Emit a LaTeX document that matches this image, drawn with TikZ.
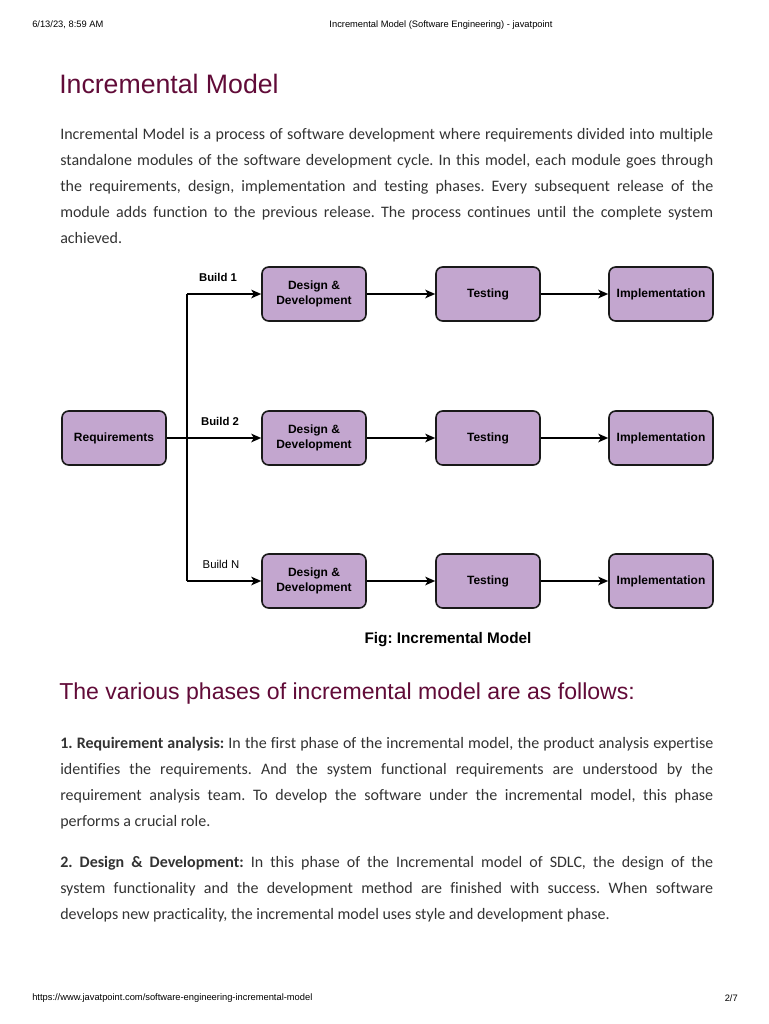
\documentclass[tikz,border=0pt]{standalone}
\usepackage{fontspec}
\setmainfont{Carlito}[Ligatures=CommonOff]
\newfontfamily\arialfont{Liberation Sans}
\usetikzlibrary{arrows.meta}
\frenchspacing

\definecolor{headred}{HTML}{610B38}
\definecolor{boxfill}{HTML}{C3A6CF}
\definecolor{bodytext}{HTML}{333333}

% one justified text line, 653px wide
\newcommand{\jline}[1]{\makebox[489.75pt][s]{#1}}

\tikzset{
  phase/.style={draw=black!90, fill=boxfill, line width=1.2pt, rounded corners=5pt,
    minimum width=78pt, minimum height=40.5pt, inner sep=2pt, align=center,
    font=\arialfont\bfseries\fontsize{9}{11}\selectfont},
  flow/.style={line width=1.1pt, -{Stealth[length=7.5pt,width=6.5pt,inset=2pt]}},
  buildlabel/.style={font=\arialfont\bfseries\fontsize{8.5}{10}\selectfont},
  para/.style={anchor=north west, inner sep=0pt, align=left, text=bodytext,
    font=\fontsize{12}{19.6}\selectfont},
  pagetext/.style={inner sep=0pt, font=\arialfont\fontsize{7}{8}\selectfont},
  heading/.style={anchor=west, inner sep=0pt, text=headred},
}

\begin{document}
\begin{tikzpicture}[x=0.75pt, y=-0.75pt, >=Latex]
\useasboundingbox (0,0) rectangle (768,1024);
\fill[white] (0,0) rectangle (768,1024);

% page header and footer
\node[pagetext, anchor=west] (date) at (32,25) {6/13/23, 8:59 AM};
\node[pagetext] (pagetitle) at (441,25) {Incremental Model (Software Engineering) - javatpoint};
\node[pagetext, anchor=west] (url) at (32,998) {https://www.javatpoint.com/software-engineering-incremental-model};
\node[pagetext, anchor=east] (pageno) at (738,998) {2/7};

% title and intro
\node[heading, font=\arialfont\fontsize{20}{24}\selectfont] (title) at (59,84) {Incremental Model};
\node[para] (intro) at (60,128) {%
\jline{Incremental Model is a process of software development where requirements divided into multiple}\\
\jline{standalone modules of the software development cycle. In this model, each module goes through}\\
\jline{the requirements, design, implementation and testing phases. Every subsequent release of the}\\
\jline{module adds function to the previous release. The process continues until the complete system}\\
achieved.};

% the diagram
\node[phase] (req) at (114,438) {Requirements};
\node[phase] (dd1) at (314,294) {Design \&\\Development};
\node[phase] (test1) at (488,294) {Testing};
\node[phase] (impl1) at (661,294) {Implementation};
\node[phase] (dd2) at (314,438) {Design \&\\Development};
\node[phase] (test2) at (488,438) {Testing};
\node[phase] (impl2) at (661,438) {Implementation};
\node[phase] (ddN) at (314,581) {Design \&\\Development};
\node[phase] (testN) at (488,581) {Testing};
\node[phase] (implN) at (661,581) {Implementation};
\coordinate (spine) at (187,438);

\draw[line width=1.1pt] (req) -- (spine);
\draw[line width=1.1pt] (dd1 -| spine) -- (ddN -| spine);
\draw[flow] (dd1 -| spine) -- (dd1);
\draw[flow] (dd2 -| spine) -- (dd2);
\draw[flow] (ddN -| spine) -- (ddN);
\draw[flow] (dd1) -- (test1);\draw[flow] (test1) -- (impl1);
\draw[flow] (dd2) -- (test2);\draw[flow] (test2) -- (impl2);
\draw[flow] (ddN) -- (testN);\draw[flow] (testN) -- (implN);

\node[buildlabel] (b1) at (218,277) {Build 1};
\node[buildlabel] (b2) at (220,421) {Build 2};
\node[buildlabel, font=\arialfont\fontsize{8.5}{10}\selectfont] (bN) at (221,564) {Build N};
\node[font=\arialfont\bfseries\fontsize{11.5}{13}\selectfont] (fig) at (448,640) {Fig: Incremental Model};

% phases
\node[heading, font=\arialfont\fontsize{17.3}{20}\selectfont] (phasetitle) at (59,694) {The various phases of incremental model are as follows:};
\node[para] (reqtext) at (60,737) {%
\jline{\textbf{1. Requirement analysis:} In the first phase of the incremental model, the product analysis expertise}\\
\jline{identifies the requirements. And the system functional requirements are understood by the}\\
\jline{requirement analysis team. To develop the software under the incremental model, this phase}\\
performs a crucial role.};
\node[para] (ddtext) at (60,856) {%
\jline{\textbf{2. Design \& Development:} In this phase of the Incremental model of SDLC, the design of the}\\
\jline{system functionality and the development method are finished with success. When software}\\
develops new practicality, the incremental model uses style and development phase.};
\end{tikzpicture}
\end{document}
